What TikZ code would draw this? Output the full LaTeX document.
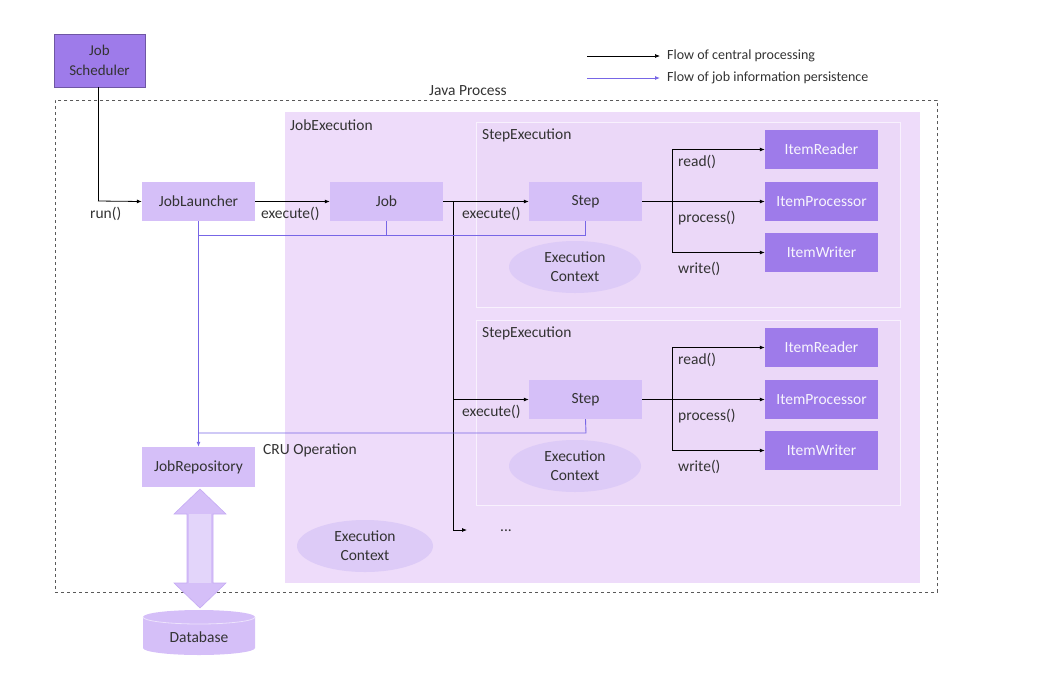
\documentclass[tikz,border=0pt]{standalone}
\usepackage{fontspec}
\setmainfont{Carlito}
\usetikzlibrary{arrows.meta,shapes.geometric}
\definecolor{dk}{HTML}{9E7BEA}
\definecolor{md}{HTML}{D5BFF8}
\definecolor{lt}{HTML}{EEDCFA}
\definecolor{se}{HTML}{EBD8F8}
\definecolor{ec}{HTML}{DDCBF7}
\definecolor{bl}{HTML}{7766E6}
\definecolor{tx}{HTML}{333333}
\begin{document}
\begin{tikzpicture}[x=1pt,y=-1pt,font=\fontsize{15.5}{18}\selectfont,text=tx,
 box/.style={fill=md,draw=none,minimum width=113pt,minimum height=39pt,inner sep=0pt},
 item/.style={fill=dk,draw=none,minimum width=113pt,minimum height=39pt,inner sep=0pt,text=white!92!dk},
 ctx/.style={ellipse,fill=ec,minimum width=132pt,minimum height=52pt,inner sep=0pt,align=center,font=\fontsize{15.5}{19}\selectfont},
 blk/.style={-{Latex[length=5pt,width=4pt]},black,line width=0.8pt},
 blu/.style={bl,line width=0.9pt},
 lbl/.style={anchor=west,inner sep=0pt}]
\useasboundingbox (0,0) rectangle (1047,673);
% regions
\node[draw=gray!70!black,dashed,line width=0.6pt,minimum width=882pt,minimum height=492pt,inner sep=0pt,anchor=north west] (jp) at (55,100) {};
\node[anchor=south,inner sep=1pt] (jpl) at (468,97) {Java Process};
\node[fill=lt,minimum width=635pt,minimum height=471pt,inner sep=0pt,anchor=north west] (je) at (285,112) {};
\node[lbl] (jel) at (290,125) {JobExecution};
\node[fill=se,draw=white!60!lt,line width=1pt,minimum width=424pt,minimum height=185pt,inner sep=0pt,anchor=north west] (se1) at (476,122) {};
\node[lbl] (se1l) at (482,135) {StepExecution};
\node[fill=se,draw=white!60!lt,line width=1pt,minimum width=424pt,minimum height=185pt,inner sep=0pt,anchor=north west] (se2) at (476,320) {};
\node[lbl] (se2l) at (482,333) {StepExecution};
% nodes
\node[fill=dk,draw=dk!70!black,line width=0.6pt,minimum width=91pt,minimum height=53pt,inner sep=0pt,align=center,font=\fontsize{15}{20}\selectfont] (js) at (99.5,60.5) {Job\\Scheduler};
\node[box] (jl) at (198.5,201.5) {JobLauncher};
\node[box] (job) at (386.5,201.5) {Job};
\node[box] (s1) at (585.5,201.5) {Step};
\node[box] (s2) at (585.5,399.5) {Step};
\node[item] (r1) at (821.5,149.5) {ItemReader};
\node[item] (p1) at (821.5,201.5) {ItemProcessor};
\node[item] (w1) at (821.5,252.5) {ItemWriter};
\node[item] (r2) at (821.5,347.5) {ItemReader};
\node[item] (p2) at (821.5,399.5) {ItemProcessor};
\node[item] (w2) at (821.5,450.5) {ItemWriter};
\node[ctx] (c1) at (575,267) {Execution\\Context};
\node[ctx] (c2) at (575,466) {Execution\\Context};
\node[ctx,minimum width=136pt] (c3) at (365,546) {Execution\\Context};
\node[box,minimum height=40pt] (jr) at (198.5,467) {JobRepository};
% database cylinder
\fill[md] (143,617) -- (143,648) arc[start angle=180,end angle=360,x radius=56pt,y radius=7pt] -- (255,617) arc[start angle=0,end angle=180,x radius=56pt,y radius=7pt] -- cycle;
\draw[white!55!md,line width=0.8pt] (143,617) arc[start angle=180,end angle=360,x radius=56pt,y radius=7pt];
\node (db) at (199,637) {Database};
% double arrow
\path[fill=md,draw=md!70!dk,line width=0.6pt] (200,489) -- (226,514) -- (213,514) -- (213,583) -- (226,583) -- (200,608) -- (174,583) -- (187,583) -- (187,514) -- (174,514) -- cycle;
\fill[white,opacity=0.35] (189,514) -- (211,514) -- (211,583) -- (189,583) -- cycle;
% black flow
\coordinate (a1) at (98,201);
\draw[black,line width=0.8pt] (js.south -| a1) -- (a1);
\draw[blk] (a1) -- (jl.west);
\node[lbl] (run) at (90,214) {run()};
\draw[blk] (jl.east) -- (job.west);
\node[lbl] (ex1) at (261,214) {execute()};
\draw[blk] (job.east) -- (s1.west);
\node[lbl] (ex2) at (462,214) {execute()};
\coordinate (b1) at (453,201);
\coordinate (b2) at (453,530);
\draw[black,line width=0.8pt] (b1) -- (b2);
\coordinate (b3) at (467,530);
\draw[blk] (b2) -- (b3);
\node (dots) at (506,531) {...};
\draw[blk] (s2.west -| b1) -- (s2.west);
\node[lbl] (ex3) at (462,412) {execute()};
% step to items
\foreach \s/\r/\p/\w/\n in {s1/r1/p1/w1/a,s2/r2/p2/w2/b}{
 \coordinate (v\n) at ([xshift=30pt]\s.east);
 \draw[blk] (\s.east) -- (\p.west);
 \draw[black,line width=0.8pt] (\r.west -| v\n) -- (\w.west -| v\n);
 \draw[blk] (\r.west -| v\n) -- (\r.west);
 \draw[blk] (\w.west -| v\n) -- (\w.west);
}
\node[lbl] (rd1) at (678,162) {read()};
\node[lbl] (pr1) at (678,218) {process()};
\node[lbl] (wr1) at (678,269) {write()};
\node[lbl] (rd2) at (678,360) {read()};
\node[lbl] (pr2) at (678,416) {process()};
\node[lbl] (wr2) at (678,467) {write()};
% blue flow
\coordinate (h1) at (200,235);
\draw[blu] (jl.south |- h1) -- (jl.south);
\draw[blu] (jl.south |- h1) -- (s1.south |- h1) -- (s1.south);
\draw[blu] (job.south) -- (job.south |- h1);
\coordinate (h2) at (586,433);
\draw[blu] (s2.south) -- (h2) -- (jr.north |- h2);
\draw[blu,-{Latex[length=5pt,width=4pt]}] (jl.south |- h1) -- (jr.north);
\node[lbl] (cru) at (263,450) {CRU Operation};
% legend
\coordinate (l1) at (587,56); \coordinate (l2) at (660,56);
\coordinate (l3) at (587,78); \coordinate (l4) at (660,78);
\draw[blk,line width=0.7pt] (l1) -- (l2);
\draw[blu,-{Latex[length=5pt,width=4pt]}] (l3) -- (l4);
\node[lbl,font=\fontsize{14}{16}\selectfont] (lg1) at (667,56) {Flow of central processing};
\node[lbl,font=\fontsize{14}{16}\selectfont] (lg2) at (667,78) {Flow of job information persistence};
\end{tikzpicture}
\end{document}
